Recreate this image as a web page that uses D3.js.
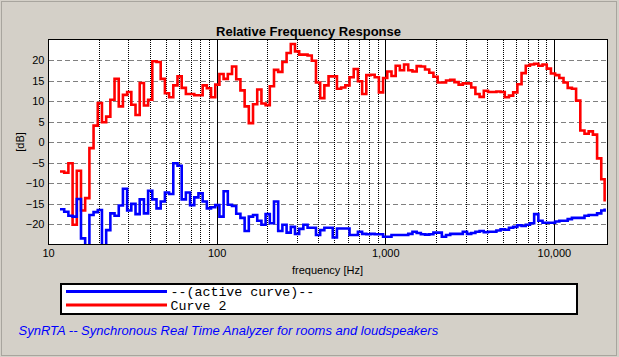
<!DOCTYPE html>
<html>
<head>
<meta charset="utf-8">
<script src="https://cdn.jsdelivr.net/npm/d3@7"></script>
<style>
  html, body { margin: 0; padding: 0; background: #D4D0C8; }
  svg { display: block; }
</style>
</head>
<body>
<svg id="chart" width="619" height="357"></svg>
<script>
// ---------------- DATA ----------------
const titleText = "Relative Frequency Response";
const xLabel = "frequency [Hz]";
const yLabel = "[dB]";
const footerText = "SynRTA -- Synchronous Real Time Analyzer for rooms and loudspeakers";
const seriesNames = ["--(active curve)--", "Curve 2"];

const xMajorTicks = [10, 100, 1000, 10000];
const xMinorTicks = [20, 30, 40, 50, 60, 70, 80, 90,
                     200, 300, 400, 500, 600, 700, 800, 900,
                     2000, 3000, 4000, 5000, 6000, 7000, 8000, 9000];
const yTicks = [-20, -15, -10, -5, 0, 5, 10, 15, 20];

// band edge frequencies (Hz); the last entry is the end of the data
const freqs = [11.78, 12.48, 13.21, 13.99, 14.82, 15.69, 16.61, 17.60, 18.63, 19.73,
  20.89, 22.13, 23.43, 24.81, 26.28, 27.82, 29.47, 31.20, 33.04, 34.99,
  37.06, 39.24, 41.55, 44.00, 46.60, 49.35, 52.26, 55.33, 58.60, 62.05,
  65.71, 69.59, 73.69, 78.03, 82.64, 87.51, 92.68, 98.15, 103.9, 110.0,
  116.5, 123.4, 130.7, 138.4, 146.6, 155.2, 164.4, 174.1, 184.4, 195.2,
  206.7, 218.9, 231.8, 245.5, 260.0, 275.3, 291.6, 308.7, 326.9, 346.2,
  366.7, 388.3, 411.2, 435.4, 461.1, 488.3, 517.1, 547.6, 579.9, 614.0,
  650.2, 688.6, 729.2, 772.2, 817.8, 865.9, 917.0, 971.0, 1028, 1089,
  1153, 1221, 1293, 1369, 1450, 1536, 1626, 1722, 1824, 1931,
  2045, 2166, 2294, 2429, 2572, 2724, 2884, 3054, 3235, 3425,
  3627, 3841, 4068, 4308, 4562, 4830, 5115, 5417, 5737, 6075,
  6433, 6812, 7214, 7640, 8090, 8567, 9073, 9605, 10172, 10772,
  11408, 12080, 12794, 13546, 14346, 15192, 16088, 17037, 18043, 19103,
  20000];

// active curve (blue), dB
const activeDb = [-16.4, -17.0, -18.0, -18.2, -13.9, -23.5, -30, -17.8, -17.1, -16.6,
  -30, -21.5, -17.4, -18.0, -15.5, -11.4, -16.7, -15.1, -17.6, -14.0,
  -17.4, -11.9, -14.0, -16.2, -14.5, -12.3, -12.7, -5.2, -5.8, -14.0,
  -12.3, -15.4, -13.5, -12.5, -14.5, -16.2, -15.9, -15.4, -18.2, -12.0,
  -15.3, -15.6, -17.5, -18.5, -21.7, -18.2, -17.8, -19.2, -20.2, -17.6,
  -19.8, -14.5, -21.7, -20.2, -22.1, -20.7, -22.4, -21.2, -20.2, -20.9,
  -20.9, -22.7, -21.5, -20.9, -20.9, -23.3, -21.1, -21.1, -21.1, -22.7,
  -22.7, -21.9, -22.4, -22.5, -22.4, -22.5, -22.5, -23.1, -23.1, -22.7,
  -22.7, -22.7, -22.7, -22.4, -21.9, -22.2, -22.5, -22.6, -22.5, -22.1,
  -22.1, -23.1, -22.7, -22.4, -22.4, -22.4, -21.9, -22.4, -22.2, -21.9,
  -21.7, -22.0, -21.9, -21.9, -21.6, -21.3, -21.4, -20.9, -20.7, -20.3,
  -20.5, -20.2, -19.8, -17.6, -19.2, -19.7, -19.7, -19.7, -19.4, -19.2,
  -19.2, -18.8, -18.5, -18.5, -18.5, -18.0, -17.8, -17.8, -17.4, -16.7,
  -16.2];

// Curve 2 (red), dB
const curve2Db = [-7.2, -7.5, -5.2, -20.2, -7.0, -16.7, -13.7, -1.5, 4.0, 9.5,
  4.8, 6.2, 10.3, 15.4, 8.7, 11.5, 12.2, 9.1, 6.6, 14.4,
  8.9, 10.3, 19.7, 19.5, 15.4, 11.9, 10.9, 13.8, 16.0, 13.2,
  11.7, 11.7, 11.4, 11.4, 13.8, 13.1, 10.9, 14.0, 16.6, 15.4,
  16.6, 18.4, 15.3, 12.6, 8.7, 4.6, 9.2, 12.8, 9.4, 9.0,
  13.6, 17.6, 17.1, 19.5, 21.7, 23.9, 22.1, 21.3, 21.3, 21.1,
  19.8, 14.5, 10.7, 13.8, 16.0, 16.0, 13.0, 13.3, 13.8, 15.8,
  17.8, 14.8, 11.7, 16.3, 16.4, 15.8, 12.1, 15.6, 17.2, 16.1,
  18.6, 17.5, 18.9, 17.5, 17.2, 18.5, 18.4, 17.7, 16.9, 15.9,
  14.5, 14.5, 15.0, 15.2, 14.6, 14.0, 14.3, 14.3, 13.3, 11.7,
  11.0, 12.5, 12.2, 12.2, 12.3, 12.2, 10.9, 11.3, 12.1, 14.1,
  16.8, 18.6, 18.9, 19.1, 18.6, 18.9, 17.9, 16.7, 16.3, 15.6,
  14.5, 13.2, 13.0, 10.1, 2.8, 2.0, 2.6, 1.8, -4.0, -9.1,
  -14.5];

// ---------------- CHART ----------------
const svg = d3.select("#chart");
const W = 619, H = 357;
const plot = { left: 48.5, top: 39.5, right: 607.5, bottom: 244.5 };

svg.append("rect").attr("x", 0).attr("y", 0).attr("width", W).attr("height", H).attr("fill", "#D4D0C8");
svg.append("rect").attr("x", 1.5).attr("y", 1.5).attr("width", 615).attr("height", 354)
  .attr("fill", "none").attr("stroke", "#A8A59E").attr("stroke-width", 1);

const x = d3.scaleLog().domain([10, 20800]).range([48, 607.5]);
const y = d3.scaleLinear().domain([-25, 25]).range([plot.bottom, plot.top]);

// plot background
svg.append("rect").attr("x", plot.left).attr("y", plot.top)
  .attr("width", plot.right - plot.left).attr("height", plot.bottom - plot.top)
  .attr("fill", "#FFFFFF");

const grid = svg.append("g").attr("shape-rendering", "crispEdges");
// horizontal dashed grid
grid.selectAll("line.h").data(yTicks).join("line")
  .attr("x1", plot.left).attr("x2", plot.right)
  .attr("y1", d => Math.round(y(d)) + 0.5).attr("y2", d => Math.round(y(d)) + 0.5)
  .attr("stroke", "#808080").attr("stroke-width", 1).attr("stroke-dasharray", "5,3");
// minor vertical dotted grid
grid.selectAll("line.vm").data(xMinorTicks).join("line")
  .attr("x1", d => Math.round(x(d)) + 0.5).attr("x2", d => Math.round(x(d)) + 0.5)
  .attr("y1", plot.top).attr("y2", plot.bottom)
  .attr("stroke", "#000").attr("stroke-width", 1).attr("stroke-dasharray", "1,1");
// major vertical solid lines
grid.selectAll("line.vM").data(xMajorTicks.filter(d => d > 10)).join("line")
  .attr("x1", d => Math.round(x(d)) + 0.5).attr("x2", d => Math.round(x(d)) + 0.5)
  .attr("y1", plot.top).attr("y2", plot.bottom)
  .attr("stroke", "#000").attr("stroke-width", 1);

// clip
svg.append("clipPath").attr("id", "clip").append("rect")
  .attr("x", plot.left).attr("y", plot.top)
  .attr("width", plot.right - plot.left).attr("height", plot.bottom - plot.top);

const line = d3.line().x(d => x(d[0])).y(d => y(d[1])).curve(d3.curveStepAfter);
const curves = svg.append("g").attr("clip-path", "url(#clip)");
curves.append("path").datum(freqs.map((f, i) => [f, curve2Db[i]]))
  .attr("d", line).attr("fill", "none").attr("stroke", "#FF0000").attr("stroke-width", 2.6);
curves.append("path").datum(freqs.map((f, i) => [f, activeDb[i]]))
  .attr("d", line).attr("fill", "none").attr("stroke", "#0000FF").attr("stroke-width", 2.6);

// frame
svg.append("rect").attr("x", plot.left).attr("y", plot.top)
  .attr("width", plot.right - plot.left).attr("height", plot.bottom - plot.top)
  .attr("fill", "none").attr("stroke", "#000").attr("stroke-width", 1)
  .attr("shape-rendering", "crispEdges");

const font = "Arial, 'Liberation Sans', sans-serif";

// y axis labels
const yAxis = d3.axisLeft(y).tickValues(yTicks).tickSize(0).tickPadding(4);
const yg = svg.append("g").attr("transform", "translate(" + 44.5 + ",0)").call(yAxis);
yg.select(".domain").remove();
yg.selectAll("text").attr("font-family", font).attr("font-size", 11).attr("fill", "#000").attr("x", 0);

// x axis labels
const xAxis = d3.axisBottom(x).tickValues(xMajorTicks).tickFormat(d3.format(",")).tickSize(0).tickPadding(0);
const xg = svg.append("g").attr("transform", "translate(0," + 249 + ")").call(xAxis);
xg.select(".domain").remove();
xg.selectAll("text").attr("font-family", font).attr("font-size", 11).attr("fill", "#000");

// axis titles
svg.append("text").attr("x", 327.5).attr("y", 273.5).attr("text-anchor", "middle")
  .attr("font-family", font).attr("font-size", 11).attr("fill", "#000").text(xLabel);
svg.append("text").attr("transform", "translate(24,142) rotate(-90)").attr("text-anchor", "middle")
  .attr("font-family", font).attr("font-size", 11).attr("fill", "#000").text(yLabel);

// title
svg.append("text").attr("x", 308.5).attr("y", 35.5).attr("text-anchor", "middle")
  .attr("font-family", font).attr("font-size", 13).attr("font-weight", "bold").attr("fill", "#000").text(titleText);

// legend
const lg = svg.append("g");
lg.append("rect").attr("x", 61).attr("y", 284).attr("width", 516).attr("height", 30)
  .attr("fill", "#FFFFFF").attr("stroke", "#000").attr("stroke-width", 2);
const legendColors = ["#0000FF", "#FF0000"];
const legendRows = [291.5, 305];
seriesNames.forEach((name, i) => {
  lg.append("line").attr("x1", 66).attr("x2", 167).attr("y1", legendRows[i]).attr("y2", legendRows[i])
    .attr("stroke", legendColors[i]).attr("stroke-width", 3);
  lg.append("text").attr("x", 170.5).attr("y", legendRows[i] + 4.5)
    .attr("font-family", "'Courier New', 'Liberation Mono', monospace").attr("font-size", 13.3)
    .attr("fill", "#000").text(name);
});

// footer
svg.append("text").attr("x", 18.5).attr("y", 335).attr("font-family", font).attr("font-size", 13)
  .attr("font-style", "italic").attr("fill", "#0000FF").text(footerText);
</script>
</body>
</html>
